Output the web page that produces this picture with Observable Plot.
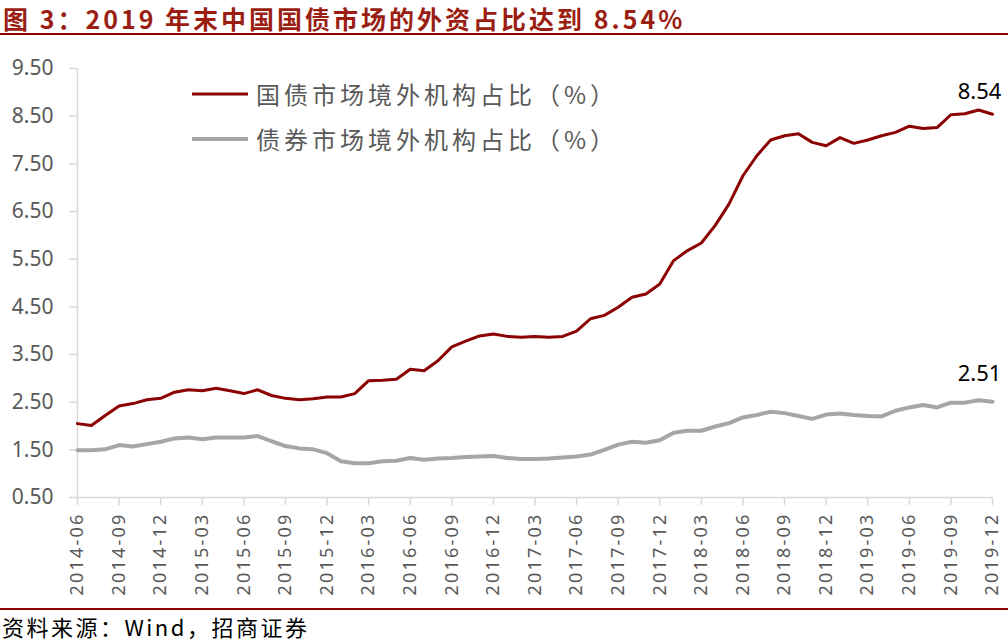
<!DOCTYPE html>
<html>
<head>
<meta charset="utf-8">
<script src="https://cdn.jsdelivr.net/npm/d3@7"></script>
<script src="https://cdn.jsdelivr.net/npm/@observablehq/plot@0.6"></script>
<style>
  body { margin: 0; background: #fff; }
  #wrap { position: relative; width: 1008px; height: 642px; overflow: hidden; background: #fff; }
  #title {
    height: 33px; line-height: 33px; border-bottom: 2px solid #8B0000;
    font: bold 25px "Noto Sans CJK SC", sans-serif; color: #9A1E12;
    padding-left: 3px; letter-spacing: 3px; white-space: nowrap;
  }
  #chart { height: 573px; }
  #chart svg { display: block; }
  #source {
    border-top: 2px solid #8B0000; height: 32px; line-height: 30px;
    font: 22px "Noto Sans CJK SC", sans-serif; color: #000; padding-left: 2px;
    letter-spacing: 2.5px; white-space: nowrap;
  }
  .legend { position: absolute; left: 192px; display: flex; align-items: center;
    font: 24px "Noto Sans CJK SC", sans-serif; color: #595959; letter-spacing: 4px; white-space: nowrap; }
  .legend svg { margin-right: 8px; }
</style>
</head>
<body>
<div id="wrap">
  <div id="title">图 3：2019 年末中国国债市场的外资占比达到 8.54%</div>
  <div id="chart"></div>
  <div id="source">资料来源：Wind，招商证券</div>
  <div id="legend"></div>
</div>
<script>
// Monthly observations, 2014-06 .. 2019-12
const months = [
  "2014-06","2014-07","2014-08","2014-09","2014-10","2014-11","2014-12",
  "2015-01","2015-02","2015-03","2015-04","2015-05","2015-06","2015-07","2015-08","2015-09","2015-10","2015-11","2015-12",
  "2016-01","2016-02","2016-03","2016-04","2016-05","2016-06","2016-07","2016-08","2016-09","2016-10","2016-11","2016-12",
  "2017-01","2017-02","2017-03","2017-04","2017-05","2017-06","2017-07","2017-08","2017-09","2017-10","2017-11","2017-12",
  "2018-01","2018-02","2018-03","2018-04","2018-05","2018-06","2018-07","2018-08","2018-09","2018-10","2018-11","2018-12",
  "2019-01","2019-02","2019-03","2019-04","2019-05","2019-06","2019-07","2019-08","2019-09","2019-10","2019-11","2019-12"
];

// 国债市场境外机构占比（%）
const govtShare = [
  2.05,2.01,2.22,2.42,2.47,2.55,2.58,2.71,2.76,2.74,
  2.79,2.74,2.68,2.76,2.64,2.58,2.55,2.57,2.61,2.61,
  2.68,2.95,2.96,2.98,3.19,3.16,3.37,3.66,3.78,3.89,
  3.93,3.88,3.86,3.88,3.86,3.88,3.99,4.25,4.32,4.49,
  4.70,4.77,4.98,5.47,5.68,5.84,6.21,6.66,7.25,7.67,
  8.00,8.09,8.13,7.95,7.88,8.05,7.93,8.00,8.09,8.16,
  8.29,8.24,8.26,8.53,8.55,8.63,8.54
];

// 债券市场境外机构占比（%）
const bondShare = [
  1.49,1.49,1.51,1.60,1.57,1.62,1.67,1.74,1.76,1.72,
  1.76,1.76,1.76,1.79,1.68,1.58,1.53,1.51,1.43,1.26,
  1.22,1.22,1.26,1.27,1.33,1.29,1.32,1.33,1.35,1.36,
  1.37,1.33,1.31,1.31,1.32,1.34,1.36,1.40,1.50,1.61,
  1.67,1.65,1.70,1.86,1.90,1.90,1.99,2.06,2.18,2.23,
  2.30,2.27,2.21,2.15,2.24,2.26,2.23,2.21,2.20,2.32,
  2.39,2.44,2.39,2.49,2.49,2.54,2.51
];

const seriesNames = ["国债市场境外机构占比（%）", "债券市场境外机构占比（%）"];
const seriesColors = ["#8B0000", "#A6A6A6"];
const seriesWidths = [3, 4];

const yTicks = [0.5, 1.5, 2.5, 3.5, 4.5, 5.5, 6.5, 7.5, 8.5, 9.5];
const xTicks = ["2014-06","2014-09","2014-12","2015-03","2015-06","2015-09","2015-12",
  "2016-03","2016-06","2016-09","2016-12","2017-03","2017-06","2017-09","2017-12",
  "2018-03","2018-06","2018-09","2018-12","2019-03","2019-06","2019-09","2019-12"];

const rows = months.map((m, i) => ({month: m, govt: govtShare[i], bond: bondShare[i]}));
const last = rows[rows.length - 1];

const chart = Plot.plot({
  width: 1008,
  height: 573,
  marginTop: 33,
  marginBottom: 111,
  marginLeft: 77,
  marginRight: 16,
  style: {fontFamily: "'Noto Sans', sans-serif", background: "white", overflow: "visible"},
  x: {type: "point", domain: months, padding: 0},
  y: {domain: [0.5, 9.5]},
  marks: [
    Plot.ruleY([0.5], {stroke: "#D9D9D9", strokeWidth: 1.5}),
    Plot.ruleX([months[0]], {stroke: "#D9D9D9", strokeWidth: 1.5}),
    Plot.axisY({ticks: yTicks, tickFormat: d3.format(".2f"), tickSize: 8, tickPadding: 16,
      stroke: "#D9D9D9", strokeWidth: 1.5, fill: "#595959", fontSize: 21, label: null}),
    Plot.axisX({ticks: xTicks, tickRotate: -90, tickSize: 8, tickPadding: 7,
      stroke: "#D9D9D9", strokeWidth: 1.5, fill: "#595959", fontSize: 18, label: null}),
    Plot.line(rows, {x: "month", y: "bond", stroke: seriesColors[1], strokeWidth: seriesWidths[1], strokeLinejoin: "round"}),
    Plot.line(rows, {x: "month", y: "govt", stroke: seriesColors[0], strokeWidth: seriesWidths[0], strokeLinejoin: "round"}),
    Plot.text([last], {x: "month", y: "govt", text: d => d.govt.toFixed(2), dx: -13, dy: -22, fontSize: 22, fill: "#000"}),
    Plot.text([last], {x: "month", y: "bond", text: d => d.bond.toFixed(2), dx: -13, dy: -28, fontSize: 22, fill: "#000"})
  ]
});

d3.select(chart).selectAll('g[aria-label="x-axis tick label"] text').attr("letter-spacing", "2.2px");
document.getElementById("chart").appendChild(chart);

// Legend placed inside the plot area, upper left
const legend = d3.select("#legend");
seriesNames.forEach((name, i) => {
  const item = legend.append("div").attr("class", "legend").style("top", (76 + i * 45) + "px");
  const s = item.append("svg").attr("width", 56).attr("height", 10);
  s.append("line").attr("x1", 0).attr("x2", 56).attr("y1", 5).attr("y2", 5)
    .attr("stroke", seriesColors[i]).attr("stroke-width", seriesWidths[i]);
  item.append("span").text(name);
});
</script>
</body>
</html>
